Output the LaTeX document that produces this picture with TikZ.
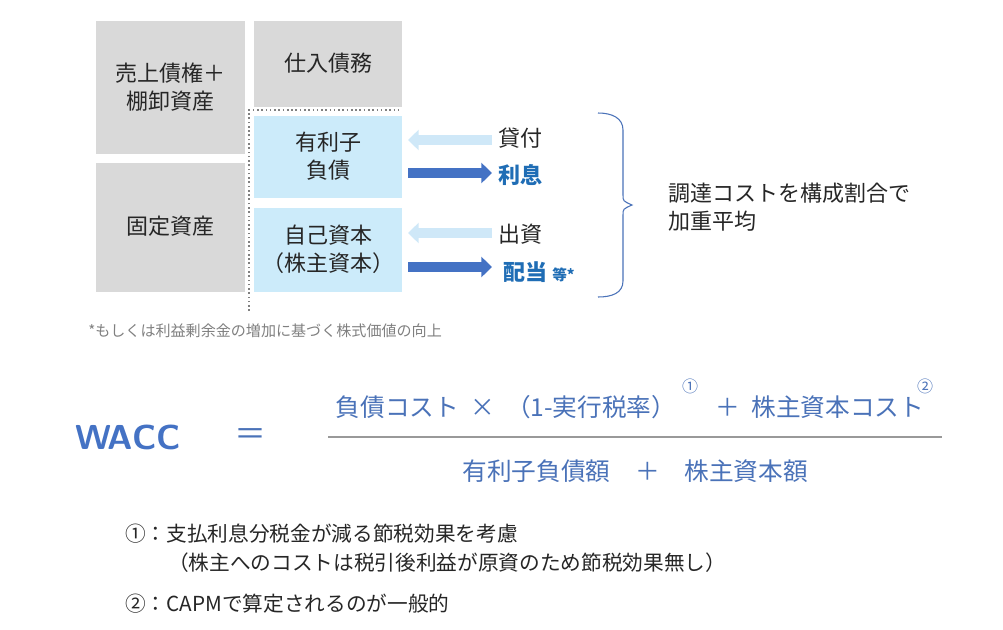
\documentclass[tikz,border=0pt]{standalone}
\usepackage{fontspec}
\setmainfont{Noto Sans CJK JP}
\usetikzlibrary{arrows.meta}
\definecolor{gbox}{HTML}{D9D9D9}
\definecolor{lbox}{HTML}{CCEBFA}
\definecolor{larr}{HTML}{CFE8F8}
\definecolor{darr}{HTML}{4472C4}
\definecolor{btxt}{HTML}{1F6DB5}
\definecolor{ftxt}{HTML}{4A72B8}
\definecolor{ttxt}{HTML}{262626}
\begin{document}
\begin{tikzpicture}[x=0.75pt,y=-0.75pt,
  bx/.style={inner sep=0,align=center,text=ttxt,font=\fontsize{16.5}{21}\selectfont},
  lt/.style={text=ttxt,font=\fontsize{16.5}{21}\selectfont,anchor=west,inner sep=0},
  bt/.style={text=btxt,font=\fontsize{16.5}{21}\selectfont\bfseries,anchor=west,inner sep=0},
  fm/.style={text=ftxt,font=\fontsize{18.5}{22}\selectfont,inner sep=0},
  sup/.style={text=ftxt,font=\fontsize{12}{13}\selectfont,inner sep=0},
  nt/.style={text=ttxt,font=\fontsize{15.5}{19}\selectfont,anchor=west,inner sep=0},
  arl/.style={larr,line width=7pt,-{Triangle[width=15pt,length=8pt]}},
  ard/.style={darr,line width=7pt,-{Triangle[width=15pt,length=8pt]}}]
\useasboundingbox (0,0) rectangle (1003,629);
\fill[gbox] (96,21) rectangle (245,154);
\fill[gbox] (96,163) rectangle (245,292);
\fill[gbox] (254,21) rectangle (402,107);
\fill[lbox] (254,116) rectangle (402,198);
\fill[lbox] (254,208) rectangle (402,292);
\draw[gray,dotted,line width=1.2pt] (249,311) -- (249,110) -- (402,110);
\node[bx] (a) at (170.5,87) {売上債権＋\\棚卸資産};
\node[bx] (b) at (170.5,226) {固定資産};
\node[bx] (c) at (328,63) {仕入債務};
\node[bx] (d) at (328,156) {有利子\\負債};
\node[bx] (e) at (328,249) {自己資本\\（株主資本）};
\node[lt] (l1) at (498,138) {貸付};
\node[bt] (l2) at (498,175) {利息};
\node[lt] (l3) at (498,234) {出資};
\node[bt] (l4) at (503,272) {配当 {\fontsize{11}{12}\selectfont 等*}};
\coordinate (p1) at (408,140); \coordinate (q1) at (492,140);
\coordinate (p2) at (408,173); \coordinate (q2) at (492,173);
\coordinate (p3) at (408,233); \coordinate (q3) at (492,233);
\coordinate (p4) at (408,267); \coordinate (q4) at (492,267);
\draw[arl] (q1) -- (p1);
\draw[ard] (p2) -- (q2);
\draw[arl] (q3) -- (p3);
\draw[ard] (p4) -- (q4);
\draw[ftxt,line width=0.8pt] (598,113) .. controls (612,113) and (623,118) .. (623,130) -- (623,195) .. controls (623,201) .. (632,205) .. controls (623,209) .. (623,215) -- (623,281) .. controls (623,293) and (612,297) .. (598,297);
\node[lt,align=left] (t) at (668,207) {調達コストを構成割合で\\加重平均};
\node[text=gray,font=\fontsize{11.3}{13}\selectfont,anchor=west,inner sep=0] (fn) at (88,331) {*もしくは利益剰余金の増加に基づく株式価値の向上};
\node[text=darr,font=\fontsize{26}{30}\selectfont\bfseries\sffamily,inner sep=0] (w) at (128,437) {WACC};
\node[fm,font=\fontsize{24}{28}\selectfont] (eq) at (250,437) {＝};
\node[fm] (num) at (630,407) {負債コスト \ ×\ \ （1-実行税率）\hspace{1.6em}＋\ \ 株主資本コスト\hspace{0.7em}};
\node[sup] (s1) at (690,386) {①};
\node[sup] (s2) at (925,386) {②};
\draw[gray!80,line width=0.8pt] (328,437) -- (942,437);
\node[fm] (den) at (635,471) {有利子負債額\quad ＋\quad 株主資本額};
\node[nt] (n1) at (125,534) {①：支払利息分税金が減る節税効果を考慮};
\node[nt] (n2) at (168,563) {（株主へのコストは税引後利益が原資のため節税効果無し）};
\node[nt] (n3) at (125,604) {②：CAPMで算定されるのが一般的};
\end{tikzpicture}
\end{document}
